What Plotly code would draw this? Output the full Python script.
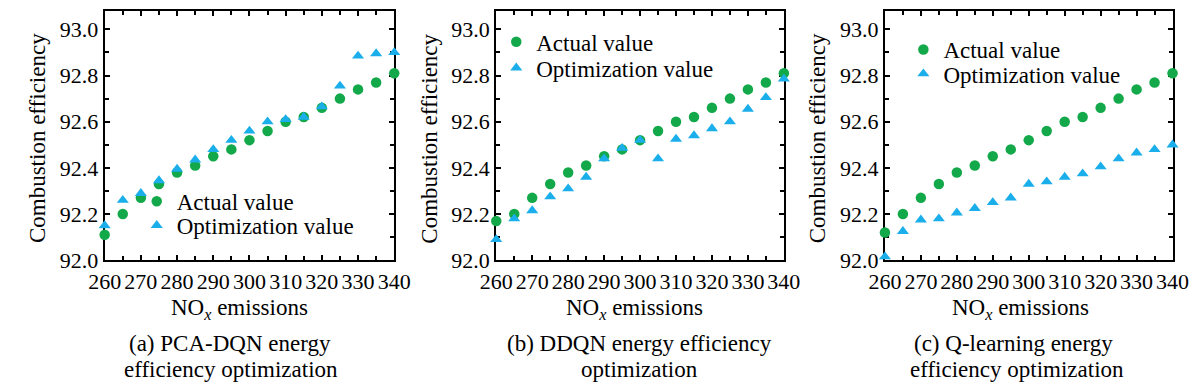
import plotly.graph_objects as go

nox = [260, 265, 270, 275, 280, 285, 290, 295, 300, 305, 310, 315, 320, 325, 330, 335, 340]

actual_a = [92.11, 92.20, 92.27, 92.33, 92.38, 92.41, 92.45, 92.48, 92.52, 92.56, 92.60, 92.62, 92.66, 92.70, 92.74, 92.77, 92.81]
optim_a = [92.15, 92.26, 92.29, 92.345, 92.395, 92.435, 92.48, 92.52, 92.56, 92.60, 92.61, 92.62, 92.665, 92.755, 92.885, 92.895, 92.90]

actual_b = [92.17, 92.20, 92.27, 92.33, 92.38, 92.41, 92.45, 92.48, 92.52, 92.56, 92.60, 92.62, 92.66, 92.70, 92.74, 92.77, 92.81]
optim_b = [92.09, 92.18, 92.215, 92.275, 92.31, 92.36, 92.44, 92.485, 92.52, 92.44, 92.525, 92.54, 92.57, 92.60, 92.655, 92.705, 92.785]

actual_c = [92.12, 92.20, 92.27, 92.33, 92.38, 92.41, 92.45, 92.48, 92.52, 92.56, 92.60, 92.62, 92.66, 92.70, 92.74, 92.77, 92.81]
optim_c = [92.015, 92.125, 92.175, 92.18, 92.205, 92.225, 92.25, 92.27, 92.33, 92.34, 92.36, 92.375, 92.405, 92.44, 92.465, 92.48, 92.50]

series_names = ["Actual value", "Optimization value"]
captions = [
    ["(a) PCA-DQN energy", "efficiency optimization"],
    ["(b) DDQN energy efficiency", "optimization"],
    ["(c) Q-learning energy", "efficiency optimization"],
]
x_title = "NO<sub><i>x</i></sub> emissions"
y_title = "Combustion efficiency"

W, H = 1200, 385
GREEN = "#13A94B"
BLUE = "#1AAEEA"
FONT = "'Liberation Serif', 'Times New Roman', Times, serif"

# panel pixel geometry
panels_px = [(82, 380), (485, 781), (885, 1181)]
plot_top, plot_bot = 3, 261
y_title_x = [13, 416, 816]
x_title_cx = [221, 627, 1025]
cap_cx = [(211, 212), (632, 632), (1017, 1021)]
legend_pos = [((115, 200), (115, 225)), ((485, 35), (485, 62)), ((904, 43), (904, 68))]

data = [(actual_a, optim_a), (actual_b, optim_b), (actual_c, optim_c)]

fig = go.Figure()
legend_idx = 1
for i, (act, opt) in enumerate(data):
    xa = "x" if i == 0 else f"x{i+1}"
    ya = "y" if i == 0 else f"y{i+1}"
    lg1 = "legend" if legend_idx == 1 else f"legend{legend_idx}"
    lg2 = f"legend{legend_idx+1}"
    fig.add_trace(go.Scatter(x=nox, y=act, mode="markers", name=series_names[0],
                             marker=dict(symbol="circle", size=10.5, color=GREEN),
                             xaxis=xa, yaxis=ya, cliponaxis=False, legend=lg1))
    fig.add_trace(go.Scatter(x=nox, y=opt, mode="markers", name=series_names[1],
                             marker=dict(symbol="triangle-up", size=10.5, color=BLUE),
                             xaxis=xa, yaxis=ya, cliponaxis=False, legend=lg2))
    legend_idx += 2

layout = dict(
    width=W, height=H,
    margin=dict(l=0, r=0, t=0, b=0),
    paper_bgcolor="white", plot_bgcolor="white",
    font=dict(family=FONT, size=22, color="black"),
    showlegend=True,
)

ydom = [1 - plot_bot / H, 1 - plot_top / H]
for i, (x0, x1) in enumerate(panels_px):
    suffix = "" if i == 0 else str(i + 1)
    layout["xaxis" + suffix] = dict(
        domain=[x0 / W, x1 / W], range=[260, 340], dtick=10, tick0=260,
        ticks="inside", ticklen=5, tickwidth=1.5, tickcolor="black",
        minor=dict(dtick=5, ticks="inside", ticklen=4, tickwidth=1.5, tickcolor="black"),
        showline=True, linewidth=2, linecolor="black", mirror="allticks",
        showgrid=False, zeroline=False, layer="below traces",
        anchor="y" + suffix, tickfont=dict(size=22, family=FONT),
    )
    layout["yaxis" + suffix] = dict(
        domain=ydom, range=[92.0, 93.08], dtick=0.2, tick0=92.0, tickformat=".1f",
        ticks="inside", ticklen=5, tickwidth=1.5, tickcolor="black",
        minor=dict(dtick=0.1, ticks="inside", ticklen=4, tickwidth=1.5, tickcolor="black"),
        showline=True, linewidth=2, linecolor="black", mirror="allticks",
        showgrid=False, zeroline=False, layer="below traces",
        anchor="x" + suffix, tickfont=dict(size=22, family=FONT),
    )

# legends: one item each
k = 1
for i in range(3):
    for j in range(2):
        px, py = legend_pos[i][j]
        name = "legend" if k == 1 else f"legend{k}"
        layout[name] = dict(
            x=px / W, y=1 - py / H, xanchor="left", yanchor="middle",
            bgcolor="rgba(0,0,0,0)", borderwidth=0,
            font=dict(family=FONT, size=23, color="black"),
            itemwidth=30, tracegroupgap=0,
        )
        k += 1

annotations = []
for i in range(3):
    annotations.append(dict(text=y_title, x=y_title_x[i] / W, y=1 - 135 / H, xref="paper", yref="paper",
                            textangle=-90, showarrow=False, xanchor="center", yanchor="middle",
                            font=dict(family=FONT, size=23)))
    annotations.append(dict(text=x_title, x=x_title_cx[i] / W, y=1 - 312 / H, xref="paper", yref="paper",
                            showarrow=False, xanchor="center", yanchor="middle",
                            font=dict(family=FONT, size=23)))
    annotations.append(dict(text=captions[i][0], x=cap_cx[i][0] / W, y=1 - 347 / H, xref="paper", yref="paper",
                            showarrow=False, xanchor="center", yanchor="middle",
                            font=dict(family=FONT, size=23)))
    annotations.append(dict(text=captions[i][1], x=cap_cx[i][1] / W, y=1 - 374 / H, xref="paper", yref="paper",
                            showarrow=False, xanchor="center", yanchor="middle",
                            font=dict(family=FONT, size=23)))
layout["annotations"] = annotations

fig.update_layout(**layout)
fig.write_html("out.html")
